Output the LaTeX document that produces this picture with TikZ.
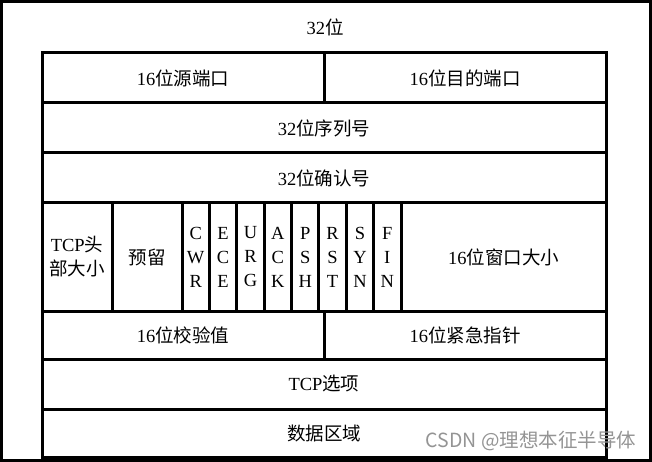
\documentclass[tikz,border=0pt]{standalone}
\usepackage{fontspec}
\setmainfont{Liberation Serif}
\newfontfamily\cjk{Noto Sans CJK SC}
\usetikzlibrary{positioning}
\newcommand{\cn}[1]{{\cjk #1}}

\begin{document}
\begin{tikzpicture}[
  x=1pt, y=-1pt,
  every node/.style={font=\fontsize{18.5pt}{24pt}\selectfont},
  cell/.style={
    draw=black,
    line width=3pt,
    outer sep=0pt,
    inner sep=0pt,
    align=center,
    minimum height=50pt
  },
  flag/.style={cell, minimum width=27.375pt, minimum height=108pt}
]
\useasboundingbox (0,0) rectangle (652,462);

% Rahmen
\draw[line width=3pt] (1.5,1.5) rectangle (650,460);
\node (title) at (325,27) {32\cn{位}};

% Zeile 1
\node[cell, anchor=north west, minimum width=282pt] (src) at (42,53) {16\cn{位源端口}};
\node[cell, right=0pt of src, minimum width=282pt] (dst) {16\cn{位目的端口}};

% Zeile 2 und 3
\node[cell, below=0pt of src.south west, anchor=north west, minimum width=564pt] (seq) {32\cn{位序列号}};
\node[cell, below=0pt of seq.south west, anchor=north west, minimum width=564pt] (ack) {32\cn{位确认号}};

% Zeile 4: Flags
\node[cell, below=0pt of ack.south west, anchor=north west, minimum width=70pt, minimum height=108pt] (hlen) {TCP\cn{头}\\\cn{部大小}};
\node[cell, right=0pt of hlen, minimum width=70pt, minimum height=108pt] (rsv) {\cn{预留}};
\node[flag, right=0pt of rsv] (cwr) {C\\W\\R};
\node[flag, right=0pt of cwr] (ece) {E\\C\\E};
\node[flag, right=0pt of ece] (urg) {U\\R\\G};
\node[flag, right=0pt of urg] (ackf) {A\\C\\K};
\node[flag, right=0pt of ackf] (psh) {P\\S\\H};
\node[flag, right=0pt of psh] (rst) {R\\S\\T};
\node[flag, right=0pt of rst] (syn) {S\\Y\\N};
\node[flag, right=0pt of syn] (fin) {F\\I\\N};
\node[cell, right=0pt of fin, minimum width=205pt, minimum height=108pt] (win) {16\cn{位窗口大小}};

% Zeile 5
\node[cell, below=0pt of hlen.south west, anchor=north west, minimum width=282pt, minimum height=48pt] (chk) {16\cn{位校验值}};
\node[cell, right=0pt of chk, minimum width=282pt, minimum height=48pt] (urgp) {16\cn{位紧急指针}};

% Zeile 6 und 7
\node[cell, below=0pt of chk.south west, anchor=north west, minimum width=564pt] (opt) {TCP\cn{选项}};
\node[cell, below=0pt of opt.south west, anchor=north west, minimum width=564pt, minimum height=48pt] (data) {\cn{数据区域}};

% Wasserzeichen
\node[text=black!42, font={\cjk\fontsize{19.5pt}{22pt}\selectfont}] (mark) at (531,441) {CSDN @理想本征半导体};
\end{tikzpicture}
\end{document}
